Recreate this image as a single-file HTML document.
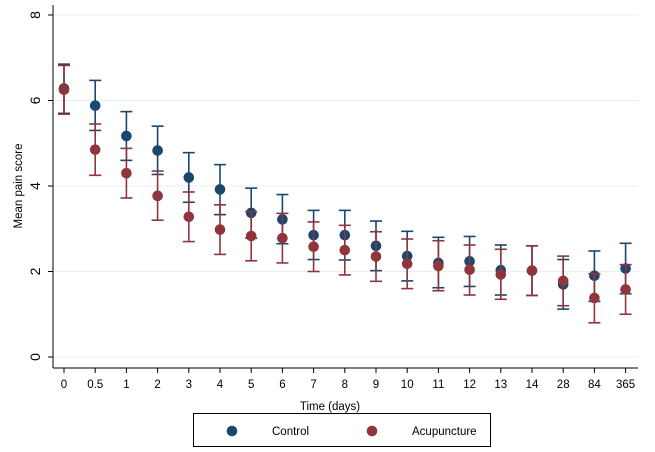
<!DOCTYPE html>
<html><head><style>body{margin:0;background:#fff}svg{display:block}text{font-family:"Liberation Sans",Arial,sans-serif}</style></head>
<body>
<svg id="s" width="655" height="452" xmlns="http://www.w3.org/2000/svg"></svg>
<script>
const s=document.getElementById('s');let h='';
const Y=v=>357-v*42.75, X=i=>64+i*31.2;
h+='<rect width="655" height="452" fill="#fff"/>';
[0,2,4,6,8].forEach(v=>{h+=`<line x1="54" x2="638" y1="${Y(v)}" y2="${Y(v)}" stroke="#e8eff2" stroke-width="1"/>`;
h+=`<line x1="48" x2="53" y1="${Y(v)}" y2="${Y(v)}" stroke="#000"/>`;
h+=`<text x="40" y="${Y(v)}" font-size="14" text-anchor="middle" transform="rotate(-90 40 ${Y(v)})" dy="0">${v}</text>`;});
h+='<line x1="53" y1="5" x2="53" y2="368" stroke="#000"/><line x1="53" y1="368" x2="638" y2="368" stroke="#000"/>';
const labs=['0','0.5','1','2','3','4','5','6','7','8','9','10','11','12','13','14','28','84','365'];
labs.forEach((l,i)=>{h+=`<line x1="${X(i)}" x2="${X(i)}" y1="368" y2="373" stroke="#000"/><text x="${X(i)}" y="388" font-size="11.5" text-anchor="middle">${l}</text>`;});
h+='<text x="330" y="410" font-size="11.5" text-anchor="middle">Time (days)</text>';
h+='<text x="22" y="186" font-size="11.5" text-anchor="middle" transform="rotate(-90 22 186)">Mean pain score</text>';
const C=[[6.28,5.7,6.85],[5.88,5.3,6.47],[5.17,4.6,5.74],[4.83,4.27,5.4],[4.2,3.62,4.78],[3.92,3.33,4.5],[3.37,2.78,3.95],[3.22,2.65,3.8],[2.85,2.28,3.43],[2.85,2.27,3.43],[2.6,2.02,3.18],[2.36,1.78,2.94],[2.2,1.62,2.8],[2.24,1.65,2.82],[2.03,1.45,2.62],[2.02,1.44,2.6],[1.7,1.12,2.28],[1.9,1.3,2.48],[2.07,1.48,2.66]];
const A=[[6.25,5.68,6.82],[4.85,4.25,5.45],[4.3,3.72,4.88],[3.77,3.2,4.35],[3.28,2.7,3.86],[2.98,2.4,3.56],[2.83,2.25,3.4],[2.78,2.2,3.36],[2.58,2.0,3.16],[2.5,1.92,3.08],[2.35,1.77,2.93],[2.18,1.6,2.76],[2.13,1.55,2.72],[2.04,1.45,2.62],[1.93,1.35,2.52],[2.02,1.44,2.6],[1.78,1.2,2.36],[1.38,0.8,1.95],[1.58,1.0,2.16]];
function ser(d,c){d.forEach((p,i)=>{const x=X(i);h+=`<g stroke="${c}" stroke-width="1.6"><line x1="${x}" x2="${x}" y1="${Y(p[1])}" y2="${Y(p[2])}"/><line x1="${x-6}" x2="${x+6}" y1="${Y(p[1])}" y2="${Y(p[1])}"/><line x1="${x-6}" x2="${x+6}" y1="${Y(p[2])}" y2="${Y(p[2])}"/></g>`;});
d.forEach((p,i)=>{h+=`<circle cx="${X(i)}" cy="${Y(p[0])}" r="5.3" fill="${c}"/>`;});}
ser(C,'#1a476f');ser(A,'#90353b');
h+='<rect x="193.5" y="413.5" width="297" height="33" fill="#fff" stroke="#000"/>';
h+='<circle cx="232" cy="431" r="5.3" fill="#1a476f"/><text x="272" y="435" font-size="11.5">Control</text>';
h+='<circle cx="372" cy="431" r="5.3" fill="#90353b"/><text x="412" y="435" font-size="11.5">Acupuncture</text>';
s.innerHTML=h;
</script>
</body></html>
